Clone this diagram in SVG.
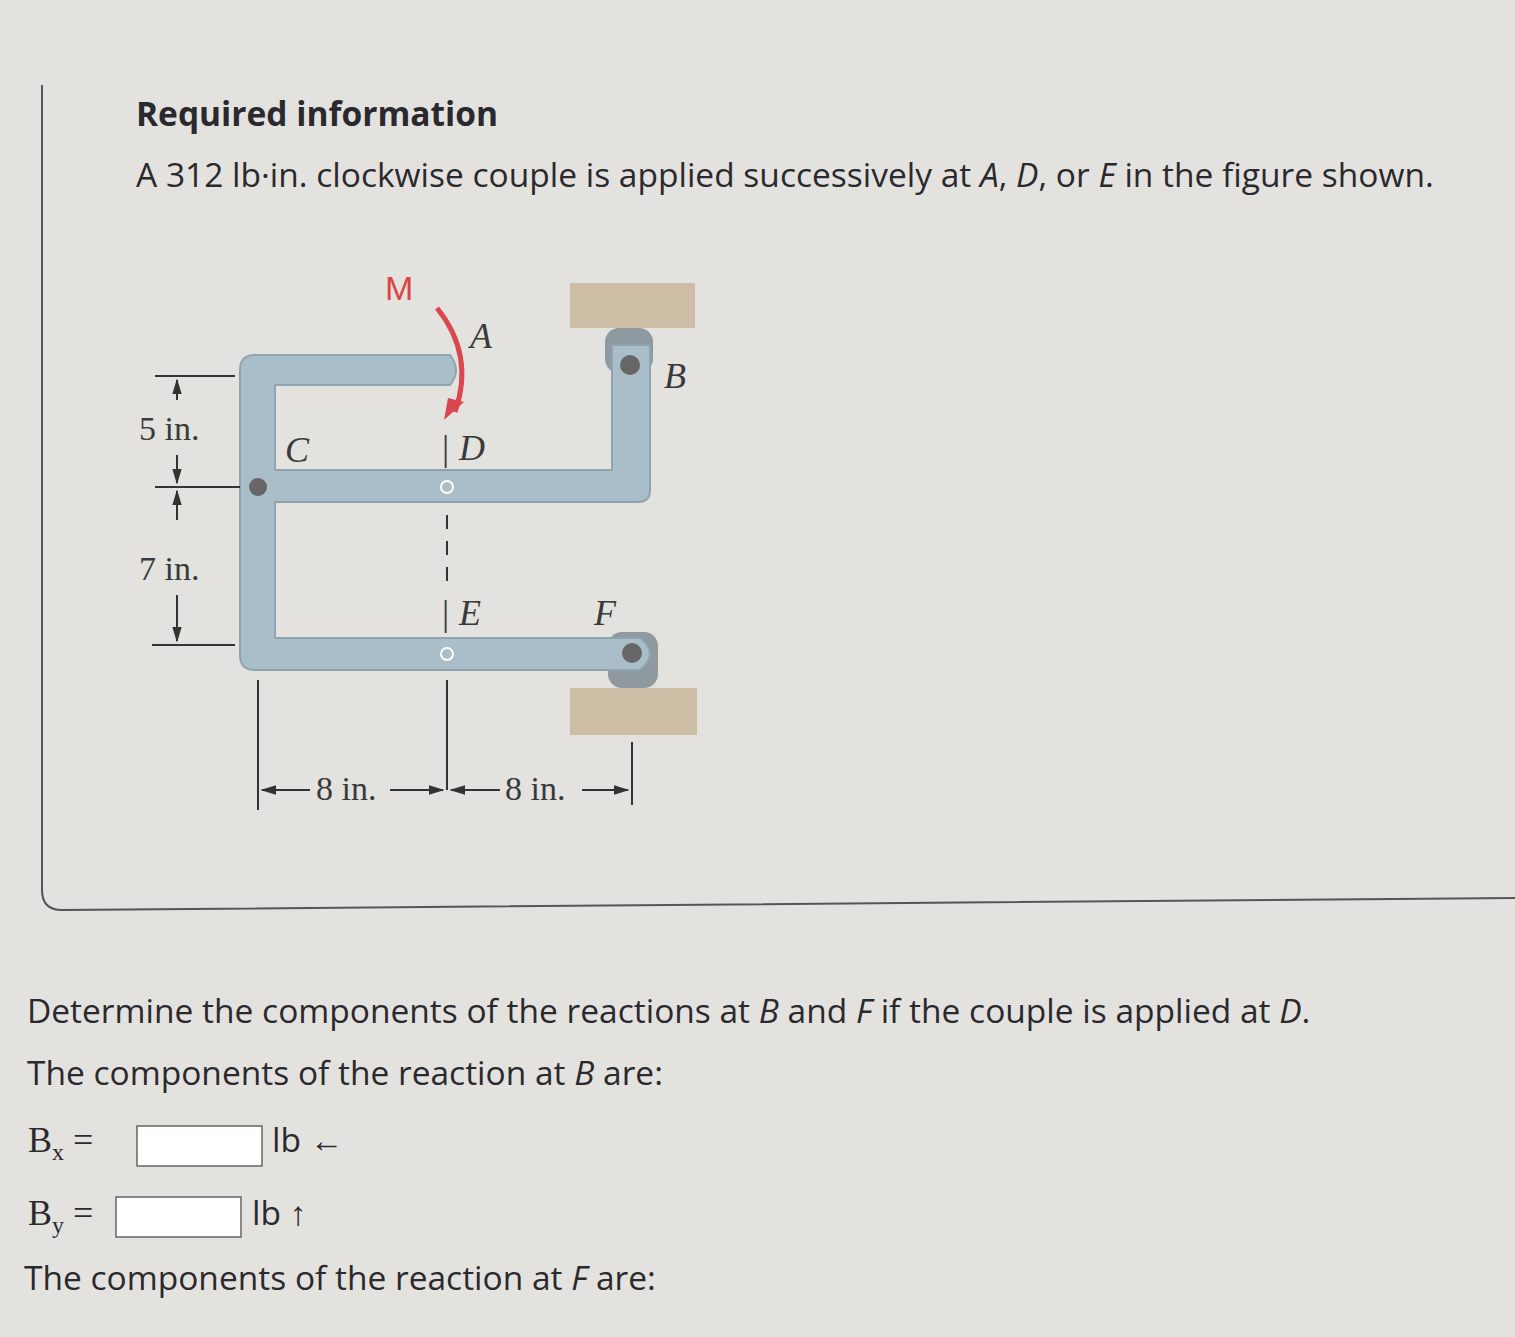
<svg xmlns="http://www.w3.org/2000/svg" width="1515" height="1337" viewBox="0 0 1515 1337">
<style>
.t{font-family:"Open Sans","Liberation Sans",sans-serif;fill:#2a2a2e;font-size:33.5px}
.s{font-family:"Liberation Serif",serif;fill:#3a3a3a;font-size:34px}
.si{font-family:"Liberation Serif",serif;fill:#3a3a3a;font-size:36px;font-style:italic}
.bar{fill:#a9bec8;stroke:#8ea4b0;stroke-width:2}
.dim{stroke:#333;stroke-width:2;fill:none}
.gnd{fill:#cdbda4}
</style>
<defs>
<marker id="ar" viewBox="0 0 10 10" refX="9" refY="5" markerWidth="8" markerHeight="8" orient="auto"><path d="M0,2 L10,5 L0,8z" fill="#333"/></marker>
</defs>
<rect width="1515" height="1337" fill="#e4e2df"/>
<path d="M42,85 L42,890 Q42,910 62,910 L1515,898" fill="none" stroke="#555" stroke-width="2"/>
<text class="t" x="136" y="126" font-weight="bold" font-size="31">Required information</text>
<text class="t" x="136" y="187">A 312 lb·in. clockwise couple is applied successively at <tspan font-style="italic">A</tspan>, <tspan font-style="italic">D</tspan>, or <tspan font-style="italic">E</tspan> in the figure shown.</text>
<g id="supports">
<rect class="gnd" x="570" y="283" width="125" height="45"/>
<rect class="gnd" x="570" y="688" width="127" height="47"/>
<rect x="605" y="328" width="48" height="45" rx="14" fill="#8f9aa0"/>
<rect x="608" y="632" width="50" height="56" rx="14" fill="#8f9aa0"/>
</g>
<g id="frame">
<path class="bar" d="M240,370 Q240,355 255,355 L450,355 Q462,370 450,385 L275,385 L275,470 L612,470 L612,345 L650,345 L650,490 Q650,502 638,502 L275,502 L275,638 L640,638 Q660,653 640,670 L255,670 Q240,670 240,655 Z"/>
<circle cx="630" cy="365" r="10" fill="#666"/>
<circle cx="632" cy="653" r="10" fill="#666"/>
<circle cx="258" cy="487" r="9" fill="#666"/>
<circle cx="447" cy="487" r="6" fill="none" stroke="#fff" stroke-width="2"/>
<circle cx="447" cy="654" r="6" fill="none" stroke="#fff" stroke-width="2"/>
<path d="M447,515 V590" stroke="#333" stroke-width="2" stroke-dasharray="14,12"/>
</g>
<g id="labels">
<text x="385" y="300" font-family="Liberation Sans,sans-serif" font-size="34" fill="#d44">M</text>
<path d="M437,308 Q475,355 455,412" fill="none" stroke="#d9474f" stroke-width="5"/>
<path d="M444,420 L464,402 L448,398 Z" fill="#d9474f"/>
<text class="si" x="470" y="348" font-size="30">A</text>
<text class="si" x="664" y="388">B</text>
<text class="si" x="285" y="462">C</text>
<text class="si" x="440" y="460">| D</text>
<text class="si" x="440" y="625">| E</text>
<text class="si" x="594" y="625">F</text>
</g>
<g id="dims">
<path class="dim" d="M155,376 H235 M155,487 H240 M152,645 H235"/>
<path class="dim" d="M177,400 V380" marker-end="url(#ar)"/>
<path class="dim" d="M177,455 V483" marker-end="url(#ar)"/>
<path class="dim" d="M177,520 V491" marker-end="url(#ar)"/>
<path class="dim" d="M177,595 V641" marker-end="url(#ar)"/>
<text class="s" x="139" y="440">5 in.</text>
<text class="s" x="139" y="580">7 in.</text>
<path class="dim" d="M258,680 V810 M447,680 V790 M632,742 V805"/>
<path class="dim" d="M310,790 H262" marker-end="url(#ar)"/>
<path class="dim" d="M390,790 H443" marker-end="url(#ar)"/>
<path class="dim" d="M500,790 H451" marker-end="url(#ar)"/>
<path class="dim" d="M582,790 H628" marker-end="url(#ar)"/>
<text class="s" x="316" y="800">8 in.</text>
<text class="s" x="505" y="800">8 in.</text>
</g>
<text class="t" x="27" y="1023">Determine the components of the reactions at <tspan font-style="italic">B</tspan> and <tspan font-style="italic">F</tspan> if the couple is applied at <tspan font-style="italic">D</tspan>.</text>
<text class="t" x="27" y="1085">The components of the reaction at <tspan font-style="italic">B</tspan> are:</text>
<text x="28" y="1152" font-family="Liberation Serif,serif" font-size="36" fill="#2a2a2e">B<tspan font-size="24" dy="8">x</tspan><tspan dy="-8"> =</tspan></text>
<rect x="137" y="1126" width="125" height="40" fill="#fff" stroke="#666" stroke-width="1.5"/>
<text class="t" x="272" y="1152">lb ←</text>
<text x="28" y="1225" font-family="Liberation Serif,serif" font-size="36" fill="#2a2a2e">B<tspan font-size="24" dy="8">y</tspan><tspan dy="-8"> =</tspan></text>
<rect x="116" y="1197" width="125" height="40" fill="#fff" stroke="#666" stroke-width="1.5"/>
<text class="t" x="252" y="1225">lb ↑</text>
<text class="t" x="24" y="1290">The components of the reaction at <tspan font-style="italic">F</tspan> are:</text>
</svg>
